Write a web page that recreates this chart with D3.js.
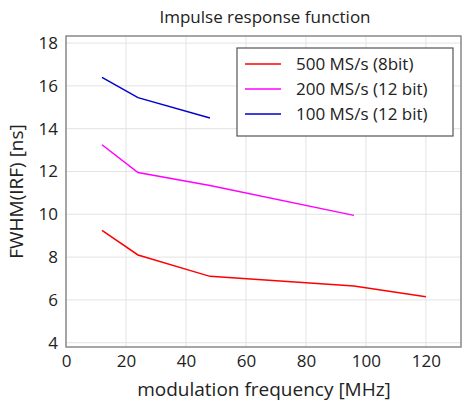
<!DOCTYPE html>
<html><head><meta charset="utf-8">
<script src="https://cdn.jsdelivr.net/npm/d3@7"></script>
<style>body{margin:0;background:#fff;font-family:"Open Sans",sans-serif;}</style>
</head><body><div id="viz"></div>
<script>
const freq500 = [12, 24, 48, 96, 120];
const irf500 = [9.25, 8.1, 7.1, 6.65, 6.15];
const freq200 = [12, 24, 48, 96];
const irf200 = [13.25, 11.95, 11.35, 9.95];
const freq100 = [12, 24, 48];
const irf100 = [16.4, 15.45, 14.5];
const labels = ['500 MS/s (8bit)', '200 MS/s (12 bit)', '100 MS/s (12 bit)'];
const colors = ['#ff0000', '#ff00ff', '#0000cc'];
const xTicks = [0, 20, 40, 60, 80, 100, 120];
const yTicks = [4, 6, 8, 10, 12, 14, 16, 18];

const pLeft = 66, pRight = 461, pTop = 36, pBottom = 347;
const svg = d3.select('#viz').append('svg').attr('width', 474).attr('height', 406);
const x = d3.scaleLinear().domain([0, 131.7]).range([pLeft, pRight]);
const y = d3.scaleLinear().domain([3.8, 18.33]).range([pBottom, pTop]);

svg.append('g').selectAll('line').data(xTicks.slice(1)).join('line')
    .attr('x1', d => x(d)).attr('x2', d => x(d)).attr('y1', pTop).attr('y2', pBottom)
    .attr('stroke', '#e3e3e3');
svg.append('g').selectAll('line').data(yTicks).join('line')
    .attr('x1', pLeft).attr('x2', pRight).attr('y1', d => y(d)).attr('y2', d => y(d))
    .attr('stroke', '#e3e3e3');

const xa = svg.append('g').attr('transform', `translate(0,${pBottom})`)
    .call(d3.axisBottom(x).tickValues(xTicks).tickSize(0).tickPadding(8));
const ya = svg.append('g').attr('transform', `translate(${pLeft},0)`)
    .call(d3.axisLeft(y).tickValues(yTicks).tickSize(0).tickPadding(8));
[xa, ya].forEach(a => {
  a.select('.domain').remove();
  a.selectAll('text').attr('font-size', 17).attr('font-family', 'Open Sans').attr('fill', '#222');
});
svg.append('rect').attr('x', pLeft).attr('y', pTop).attr('width', pRight - pLeft).attr('height', pBottom - pTop)
    .attr('fill', 'none').attr('stroke', '#888').attr('stroke-width', 1.5);

const series = [[freq500, irf500], [freq200, irf200], [freq100, irf100]];
const line = d3.line().x(d => x(d[0])).y(d => y(d[1]));
series.forEach((s, i) => {
  svg.append('path').datum(s[0].map((f, j) => [f, s[1][j]]))
    .attr('d', line).attr('fill', 'none').attr('stroke', colors[i]).attr('stroke-width', 1.5);
});

svg.append('rect').attr('x', 237).attr('y', 48).attr('width', 216).attr('height', 88)
    .attr('fill', '#fff').attr('stroke', '#555').attr('stroke-width', 1.2);
labels.forEach((l, i) => {
  const ly = 64 + i * 25;
  svg.append('line').attr('x1', 245).attr('x2', 281).attr('y1', ly).attr('y2', ly)
      .attr('stroke', colors[i]).attr('stroke-width', 1.5);
  svg.append('text').attr('x', 296).attr('y', ly + 6).attr('font-size', 17).attr('fill', '#222').text(l);
});

svg.append('text').attr('x', 265).attr('y', 23).attr('text-anchor', 'middle')
    .attr('font-size', 17).attr('fill', '#222').text('Impulse response function');
svg.append('text').attr('x', 264).attr('y', 396).attr('text-anchor', 'middle')
    .attr('font-size', 19).attr('fill', '#222').text('modulation frequency [MHz]');
svg.append('text').attr('transform', `translate(23,${(pTop + pBottom) / 2}) rotate(-90)`)
    .attr('text-anchor', 'middle').attr('font-size', 19).attr('fill', '#222').text('FWHM(IRF) [ns]');
</script></body></html>
